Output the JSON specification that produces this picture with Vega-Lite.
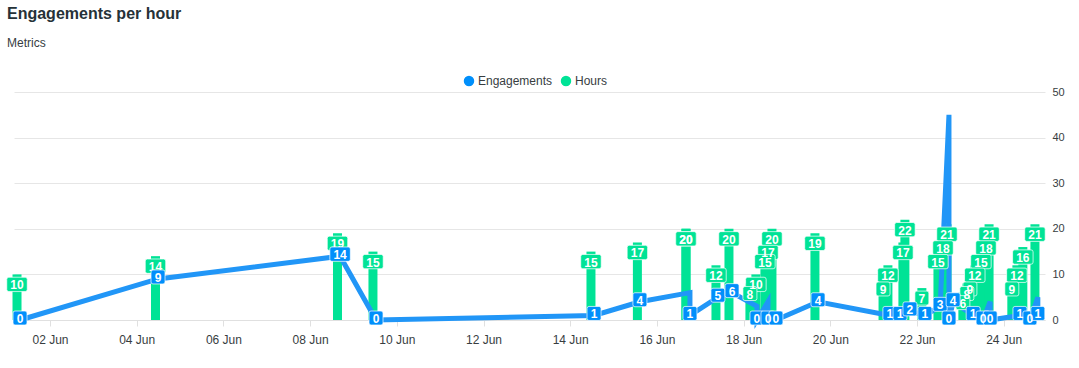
{
  "$schema": "https://vega.github.io/schema/vega-lite/v6.json",
  "width": 1031,
  "height": 228,
  "autosize": {"type": "none"},
  "padding": {"left": 14, "top": 92, "right": 34, "bottom": 48},
  "background": "white",
  "config": {"view": {"stroke": null}},
  "title": {
    "text": "Engagements per hour",
    "subtitle": "Metrics",
    "anchor": "start",
    "frame": "group",
    "font": "Liberation Sans",
    "fontSize": 16,
    "fontWeight": "bold",
    "color": "#263238",
    "subtitleFont": "Liberation Sans",
    "subtitleFontSize": 12,
    "subtitleColor": "#373d3f",
    "subtitlePadding": 16,
    "dx": -7,
    "offset": 25
  },
  "data": {
    "values": [
      {"t": "2024-06-01T05:44", "s": "Hours", "v": 10},
      {"t": "2024-06-04T10:24", "s": "Hours", "v": 14},
      {"t": "2024-06-08T15:10", "s": "Hours", "v": 19},
      {"t": "2024-06-09T10:48", "s": "Hours", "v": 15},
      {"t": "2024-06-14T11:30", "s": "Hours", "v": 15},
      {"t": "2024-06-15T13:12", "s": "Hours", "v": 17},
      {"t": "2024-06-16T16:06", "s": "Hours", "v": 20},
      {"t": "2024-06-16T16:06", "s": "Hours", "v": 20},
      {"t": "2024-06-17T08:42", "s": "Hours", "v": 12},
      {"t": "2024-06-17T15:54", "s": "Hours", "v": 20},
      {"t": "2024-06-18T03:30", "s": "Hours", "v": 8},
      {"t": "2024-06-18T06:48", "s": "Hours", "v": 10},
      {"t": "2024-06-18T11:48", "s": "Hours", "v": 15},
      {"t": "2024-06-18T13:30", "s": "Hours", "v": 17},
      {"t": "2024-06-18T15:42", "s": "Hours", "v": 20},
      {"t": "2024-06-19T15:30", "s": "Hours", "v": 19},
      {"t": "2024-06-21T05:12", "s": "Hours", "v": 9},
      {"t": "2024-06-21T07:54", "s": "Hours", "v": 12},
      {"t": "2024-06-21T16:12", "s": "Hours", "v": 17},
      {"t": "2024-06-21T17:18", "s": "Hours", "v": 22},
      {"t": "2024-06-22T02:42", "s": "Hours", "v": 7},
      {"t": "2024-06-22T11:36", "s": "Hours", "v": 15},
      {"t": "2024-06-22T14:24", "s": "Hours", "v": 18},
      {"t": "2024-06-22T16:36", "s": "Hours", "v": 21},
      {"t": "2024-06-23T01:24", "s": "Hours", "v": 6},
      {"t": "2024-06-23T03:36", "s": "Hours", "v": 8},
      {"t": "2024-06-23T05:18", "s": "Hours", "v": 9},
      {"t": "2024-06-23T08:00", "s": "Hours", "v": 12},
      {"t": "2024-06-23T11:24", "s": "Hours", "v": 15},
      {"t": "2024-06-23T14:12", "s": "Hours", "v": 18},
      {"t": "2024-06-23T15:54", "s": "Hours", "v": 21},
      {"t": "2024-06-24T04:30", "s": "Hours", "v": 9},
      {"t": "2024-06-24T07:18", "s": "Hours", "v": 12},
      {"t": "2024-06-24T10:36", "s": "Hours", "v": 16},
      {"t": "2024-06-24T17:18", "s": "Hours", "v": 21},
      {"t": "2024-06-01T07:24", "s": "Engagements", "v": 0},
      {"t": "2024-06-04T11:48", "s": "Engagements", "v": 9},
      {"t": "2024-06-08T16:36", "s": "Engagements", "v": 14},
      {"t": "2024-06-09T12:30", "s": "Engagements", "v": 0},
      {"t": "2024-06-14T13:12", "s": "Engagements", "v": 1},
      {"t": "2024-06-15T14:36", "s": "Engagements", "v": 4},
      {"t": "2024-06-16T18:18", "s": "Engagements", "v": 6},
      {"t": "2024-06-16T18:18", "s": "Engagements", "v": 1},
      {"t": "2024-06-17T09:48", "s": "Engagements", "v": 5},
      {"t": "2024-06-17T17:36", "s": "Engagements", "v": 6},
      {"t": "2024-06-18T07:24", "s": "Engagements", "v": 3},
      {"t": "2024-06-18T07:24", "s": "Engagements", "v": 0},
      {"t": "2024-06-18T13:30", "s": "Engagements", "v": 4},
      {"t": "2024-06-18T13:30", "s": "Engagements", "v": 0},
      {"t": "2024-06-18T17:54", "s": "Engagements", "v": 0},
      {"t": "2024-06-19T17:12", "s": "Engagements", "v": 4},
      {"t": "2024-06-21T09:00", "s": "Engagements", "v": 1},
      {"t": "2024-06-21T14:36", "s": "Engagements", "v": 1},
      {"t": "2024-06-21T20:06", "s": "Engagements", "v": 2},
      {"t": "2024-06-22T04:24", "s": "Engagements", "v": 1},
      {"t": "2024-06-22T12:48", "s": "Engagements", "v": 3},
      {"t": "2024-06-22T17:42", "s": "Engagements", "v": 45},
      {"t": "2024-06-22T17:42", "s": "Engagements", "v": 0},
      {"t": "2024-06-22T20:00", "s": "Engagements", "v": 4},
      {"t": "2024-06-23T07:06", "s": "Engagements", "v": 1},
      {"t": "2024-06-23T12:36", "s": "Engagements", "v": 0},
      {"t": "2024-06-23T16:30", "s": "Engagements", "v": 4},
      {"t": "2024-06-23T16:30", "s": "Engagements", "v": 0},
      {"t": "2024-06-24T09:00", "s": "Engagements", "v": 1},
      {"t": "2024-06-24T14:30", "s": "Engagements", "v": 0},
      {"t": "2024-06-24T18:54", "s": "Engagements", "v": 5},
      {"t": "2024-06-24T18:54", "s": "Engagements", "v": 1}
    ]
  },
  "transform": [
    {"window": [{"op": "row_number", "as": "idx"}]}
  ],
  "encoding": {
    "x": {
      "field": "t",
      "type": "temporal",
      "scale": {
        "domain": [
          {"year": 2024, "month": 6, "date": 1, "hours": 4, "minutes": 4},
          {"year": 2024, "month": 6, "date": 24, "hours": 22, "minutes": 52}
        ],
        "nice": false,
        "padding": 0
      },
      "axis": {
        "title": null,
        "format": "%d %b",
        "values": [
          {"year": 2024, "month": 6, "date": 2},
          {"year": 2024, "month": 6, "date": 4},
          {"year": 2024, "month": 6, "date": 6},
          {"year": 2024, "month": 6, "date": 8},
          {"year": 2024, "month": 6, "date": 10},
          {"year": 2024, "month": 6, "date": 12},
          {"year": 2024, "month": 6, "date": 14},
          {"year": 2024, "month": 6, "date": 16},
          {"year": 2024, "month": 6, "date": 18},
          {"year": 2024, "month": 6, "date": 20},
          {"year": 2024, "month": 6, "date": 22},
          {"year": 2024, "month": 6, "date": 24}
        ],
        "grid": false,
        "labelAngle": 0,
        "labelFont": "Liberation Sans",
        "labelFontSize": 12,
        "labelColor": "#373d3f",
        "domainColor": "#e0e0e0",
        "tickColor": "#e0e0e0",
        "tickSize": 6,
        "labelPadding": 8,
        "labelFlush": false,
        "labelOverlap": false
      }
    },
    "y": {
      "field": "v",
      "type": "quantitative",
      "stack": null,
      "scale": {"domain": [0, 50], "nice": false},
      "axis": {
        "title": null,
        "orient": "right",
        "values": [0, 10, 20, 30, 40, 50],
        "grid": true,
        "gridColor": "#e6e6e6",
        "domain": false,
        "ticks": false,
        "tickSize": 0,
        "labelPadding": 7,
        "labelFont": "Liberation Sans",
        "labelFontSize": 11,
        "labelColor": "#373d3f"
      }
    }
  },
  "layer": [
    {
      "transform": [{"filter": "datum.s === 'Hours'"}],
      "mark": {"type": "bar", "size": 9, "color": "#00E396"}
    },
    {
      "transform": [{"filter": "datum.s === 'Engagements'"}],
      "mark": {"type": "line", "color": "#2196f7", "strokeWidth": 5},
      "encoding": {"order": {"field": "idx", "type": "quantitative"}}
    },
    {
      "transform": [{"filter": "datum.s === 'Hours'"}],
      "mark": {"type": "point", "filled": true, "opacity": 1, "stroke": "#ffffff", "strokeWidth": 1, "strokeOpacity": 0.7, "yOffset": 10},
      "encoding": {
        "order": {"field": "v", "type": "quantitative", "sort": "descending"},
        "color": {
          "field": "s",
          "type": "nominal",
          "scale": {"domain": ["Engagements", "Hours"], "range": ["#008FFB", "#00E396"]},
          "legend": {
            "title": null,
            "orient": "none",
            "direction": "horizontal",
            "legendX": 448,
            "legendY": -18,
            "padding": 0,
            "labelFont": "Liberation Sans",
            "labelFontSize": 12,
            "labelColor": "#373d3f",
            "labelOffset": 2,
            "columnPadding": 4,
            "symbolSize": 144,
            "symbolType": "circle",
            "encode": {
              "symbols": {
                "update": {
                  "shape": {"value": "circle"},
                  "size": {"value": 144},
                  "fill": {"scale": "color", "field": "value"},
                  "stroke": {"value": "transparent"},
                  "strokeWidth": {"value": 0},
                  "opacity": {"value": 1}
                }
              }
            }
          }
        },
        "shape": {
          "condition": {"test": "datum.v >= 10", "value": "M-0.8,-0.7H0.8Q1,-0.7 1,-0.5V0.5Q1,0.7 0.8,0.7H-0.8Q-1,0.7 -1,0.5V-0.5Q-1,-0.7 -0.8,-0.7Z"},
          "value": "M-0.714,-1H0.714Q1,-1 1,-0.714V0.714Q1,1 0.714,1H-0.714Q-1,1 -1,0.714V-0.714Q-1,-1 -0.714,-1Z"
        },
        "size": {"condition": {"test": "datum.v >= 10", "value": 420}, "value": 196}
      }
    },
    {
      "transform": [{"filter": "datum.s === 'Hours'"}],
      "mark": {"type": "text", "color": "#ffffff", "font": "Liberation Sans", "fontSize": 12, "fontWeight": "bold", "baseline": "middle", "align": "center", "yOffset": 11},
      "encoding": {
        "order": {"field": "v", "type": "quantitative", "sort": "descending"},
        "text": {"field": "v", "type": "quantitative"}
      }
    },
    {
      "transform": [
        {"filter": "datum.s === 'Engagements'"},
        {"joinaggregate": [{"op": "max", "field": "idx", "as": "lastIdx"}], "groupby": ["t"]},
        {"filter": "datum.idx === datum.lastIdx"}
      ],
      "mark": {"type": "point", "filled": true, "opacity": 1, "stroke": "#ffffff", "strokeWidth": 1, "strokeOpacity": 0.7, "yOffset": -2},
      "encoding": {
        "color": {"field": "s", "type": "nominal"},
        "shape": {
          "condition": {"test": "datum.v >= 10", "value": "M-0.8,-0.7H0.8Q1,-0.7 1,-0.5V0.5Q1,0.7 0.8,0.7H-0.8Q-1,0.7 -1,0.5V-0.5Q-1,-0.7 -0.8,-0.7Z"},
          "value": "M-0.714,-1H0.714Q1,-1 1,-0.714V0.714Q1,1 0.714,1H-0.714Q-1,1 -1,0.714V-0.714Q-1,-1 -0.714,-1Z"
        },
        "size": {"condition": {"test": "datum.v >= 10", "value": 420}, "value": 196}
      }
    },
    {
      "transform": [
        {"filter": "datum.s === 'Engagements'"},
        {"joinaggregate": [{"op": "max", "field": "idx", "as": "lastIdx"}], "groupby": ["t"]},
        {"filter": "datum.idx === datum.lastIdx"}
      ],
      "mark": {"type": "text", "color": "#ffffff", "font": "Liberation Sans", "fontSize": 12, "fontWeight": "bold", "baseline": "middle", "align": "center", "yOffset": -1},
      "encoding": {
        "text": {"field": "v", "type": "quantitative"}
      }
    }
  ]
}
